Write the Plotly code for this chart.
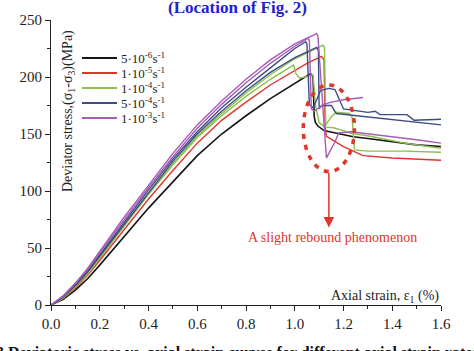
import plotly.graph_objects as go

# ---------------- data ----------------
black_x = [0, 0.05, 0.1, 0.15, 0.2, 0.3, 0.4, 0.5, 0.6, 0.7, 0.8, 0.9, 1.0, 1.065, 1.075, 1.08, 1.085, 1.095, 1.12, 1.2, 1.24, 1.3, 1.43, 1.5, 1.6]
black_y = [0, 5, 13, 23, 35, 60, 85, 108, 131, 150, 166, 181, 194, 203, 200, 165, 160, 157, 153, 149, 147.6, 146, 142, 140.5, 139]

red_x = [0, 0.05, 0.1, 0.15, 0.2, 0.3, 0.4, 0.5, 0.6, 0.7, 0.8, 0.9, 1.0, 1.05, 1.11, 1.12, 1.125, 1.13, 1.2, 1.25, 1.28, 1.4, 1.6]
red_y = [0, 6, 15, 26, 39, 66, 93, 118, 142, 162, 178, 193, 206, 212, 218, 215, 155, 148, 139, 134, 131, 129, 127]

greenA_x = [0, 0.05, 0.1, 0.15, 0.2, 0.3, 0.4, 0.5, 0.6, 0.7, 0.8, 0.9, 0.995, 1.005, 1.02, 1.06, 1.075, 1.085, 1.1, 1.125, 1.16, 1.2, 1.23, 1.31, 1.45, 1.6]
greenA_y = [0, 6, 16, 27, 41, 69, 97, 123, 147, 166, 183, 198, 210.5, 203, 199, 201, 202, 175, 160, 156, 155.5, 153, 150.6, 148, 142, 137.5]

greenB_x = [0, 0.05, 0.1, 0.15, 0.2, 0.3, 0.4, 0.5, 0.6, 0.7, 0.8, 0.9, 1.0, 1.06, 1.115, 1.122, 1.127, 1.15, 1.17, 1.225, 1.235, 1.245, 1.3, 1.45, 1.6]
greenB_y = [0, 7, 17, 28, 42, 70, 98, 124, 148, 168, 186, 202, 216, 222, 228, 226, 158, 165, 169, 168, 165, 136, 135, 135, 134]

navyA_x = [0, 0.05, 0.1, 0.15, 0.2, 0.3, 0.4, 0.5, 0.6, 0.7, 0.8, 0.9, 1.0, 1.05, 1.09, 1.097, 1.1, 1.11, 1.15, 1.17, 1.3, 1.45, 1.6]
navyA_y = [0, 7, 17, 29, 43, 71, 99, 126, 150, 170, 188, 204, 217, 222, 226, 223, 172, 175, 175, 168, 165, 161, 158]

navyB_x = [0, 0.05, 0.1, 0.15, 0.2, 0.3, 0.4, 0.5, 0.6, 0.7, 0.8, 0.9, 1.0, 1.045, 1.05, 1.06, 1.075, 1.09, 1.105, 1.14, 1.165, 1.2, 1.3, 1.33, 1.35, 1.46, 1.49, 1.6]
navyB_y = [0, 7, 18, 30, 44, 73, 101, 128, 152, 173, 191, 208, 225, 231, 229, 176, 173, 180, 188, 190, 189, 172, 169, 170, 167, 167, 162, 163]

purpleA_x = [0, 0.05, 0.1, 0.15, 0.2, 0.3, 0.4, 0.5, 0.6, 0.7, 0.8, 0.9, 1.0, 1.055, 1.06, 1.068, 1.08, 1.12, 1.15, 1.2, 1.28]
purpleA_y = [0, 8, 19, 31, 46, 75, 103, 130, 155, 176, 195, 212, 227, 234, 232, 172, 170, 176, 178, 180, 182]

purpleB_x = [0, 0.05, 0.1, 0.15, 0.2, 0.3, 0.4, 0.5, 0.6, 0.7, 0.8, 0.9, 1.0, 1.05, 1.09, 1.095, 1.13, 1.165, 1.18, 1.23, 1.35, 1.5, 1.6]
purpleB_y = [0, 8, 19, 32, 47, 77, 105, 133, 158, 179, 198, 215, 229, 234, 238, 236, 129, 143, 151, 152, 149, 145, 142]

legend_labels = ["5·10<sup>-6</sup>s<sup>-1</sup>", "1·10<sup>-5</sup>s<sup>-1</sup>",
                 "1·10<sup>-4</sup>s<sup>-1</sup>", "5·10<sup>-4</sup>s<sup>-1</sup>",
                 "1·10<sup>-3</sup>s<sup>-1</sup>"]

x_ticks = [0.0, 0.2, 0.4, 0.6, 0.8, 1.0, 1.2, 1.4, 1.6]
y_ticks = [0, 50, 100, 150, 200, 250]

# ---------------- styles ----------------
C_BLACK = "#151515"
C_RED = "#e0352b"
C_GREEN = "#8cbf4a"
C_NAVY = "#3c4b85"
C_PURPLE = "#a65bb6"
legend_colors = [C_BLACK, C_RED, C_GREEN, C_NAVY, C_PURPLE]
SERIF = "Liberation Serif, Times New Roman, serif"

W, H = 474, 351
L, R, T, B = 51, 33, 20, 46
PW, PH = W - L - R, H - T - B

def px2paper(px, py):
    return (px - L) / PW, (H - B - py) / PH

fig = go.Figure()
curves = [
    (black_x, black_y, C_BLACK, 1.6),
    (red_x, red_y, C_RED, 1.4),
    (greenA_x, greenA_y, C_GREEN, 1.4),
    (greenB_x, greenB_y, C_GREEN, 1.4),
    (navyA_x, navyA_y, C_NAVY, 1.4),
    (navyB_x, navyB_y, C_NAVY, 1.4),
    (purpleA_x, purpleA_y, C_PURPLE, 1.4),
    (purpleB_x, purpleB_y, C_PURPLE, 1.4),
]
for xs, ys, c, w in curves:
    fig.add_trace(go.Scatter(x=xs, y=ys, mode="lines", line=dict(color=c, width=w),
                             showlegend=False, hoverinfo="skip"))

shapes = []
annotations = []

# manual legend
for i, (lab, col) in enumerate(zip(legend_labels, legend_colors)):
    py = 58 + 15 * i
    x0, yy = px2paper(82, py)
    x1, _ = px2paper(117, py)
    shapes.append(dict(type="line", xref="paper", yref="paper", x0=x0, x1=x1, y0=yy, y1=yy,
                       line=dict(color=col, width=2)))
    tx, _ = px2paper(119, py)
    annotations.append(dict(xref="paper", yref="paper", x=tx, y=yy, xanchor="left", yanchor="middle",
                            text=lab, showarrow=False, font=dict(family=SERIF, size=13, color="#222")))

# dashed ellipse
shapes.append(dict(type="circle", xref="x", yref="y", x0=1.035, x1=1.245, y0=117, y1=193,
                   line=dict(color="#e0352b", width=3.5, dash="5px,6px")))

# arrow
annotations.append(dict(x=1.14, y=68, ax=1.14, ay=117, xref="x", yref="y", axref="x", ayref="y",
                        text="", showarrow=True, arrowhead=2, arrowsize=1.4, arrowwidth=1.5,
                        arrowcolor="#e0352b"))
annotations.append(dict(x=1.155, y=59, xref="x", yref="y", text="A slight rebound phenomenon",
                        showarrow=False, xanchor="center", yanchor="middle",
                        font=dict(family=SERIF, size=14, color="#e0352b")))

# axis titles inside the plot
tx, ty = px2paper(441, 296)
annotations.append(dict(xref="paper", yref="paper", x=tx, y=ty, xanchor="right", yanchor="middle",
                        text="Axial strain, ε<sub>1</sub> (%)", showarrow=False,
                        font=dict(family=SERIF, size=14, color="#222")))
tx, ty = px2paper(68, 111)
annotations.append(dict(xref="paper", yref="paper", x=tx, y=ty, xanchor="center", yanchor="middle",
                        text="Deviator stress,(σ<sub>1</sub>-σ<sub>3</sub>)(MPa)", textangle=-90,
                        showarrow=False, font=dict(family=SERIF, size=14, color="#222")))

# title (partly cut at top, as in the reference)
tx, ty = px2paper(237, 7)
annotations.append(dict(xref="paper", yref="paper", x=tx, y=ty, xanchor="center", yanchor="middle",
                        text="<b>(Location of Fig. 2)</b>", showarrow=False,
                        font=dict(family=SERIF, size=17, color="#2222cc")))

# caption (partly cut at bottom, as in the reference)
tx, ty = px2paper(-6, 342)
annotations.append(dict(xref="paper", yref="paper", x=tx, y=ty, xanchor="left", yanchor="top",
                        text="<b>3 Deviatoric stress vs. axial strain curves for different axial strain rates</b>",
                        showarrow=False, font=dict(family=SERIF, size=16, color="#111")))

axis_common = dict(showgrid=False, zeroline=False, showline=True, linecolor="#222", linewidth=1.2,
                   ticks="outside", tickcolor="#222", tickwidth=1.2, ticklen=5,
                   tickfont=dict(family=SERIF, size=15, color="#222"))

fig.update_layout(
    width=W, height=H,
    margin=dict(l=L, r=R, t=T, b=B, pad=0),
    paper_bgcolor="white", plot_bgcolor="white",
    showlegend=False,
    shapes=shapes, annotations=annotations,
    xaxis=dict(range=[0, 1.6], tickvals=x_ticks, ticktext=[f"{v:.1f}" for v in x_ticks],
               minor=dict(dtick=0.1, ticks="outside", ticklen=3, tickcolor="#222"),
               **axis_common),
    yaxis=dict(range=[0, 250], tickvals=y_ticks,
               minor=dict(dtick=25, ticks="outside", ticklen=3, tickcolor="#222"),
               **axis_common),
)

fig.write_html("out.html")
